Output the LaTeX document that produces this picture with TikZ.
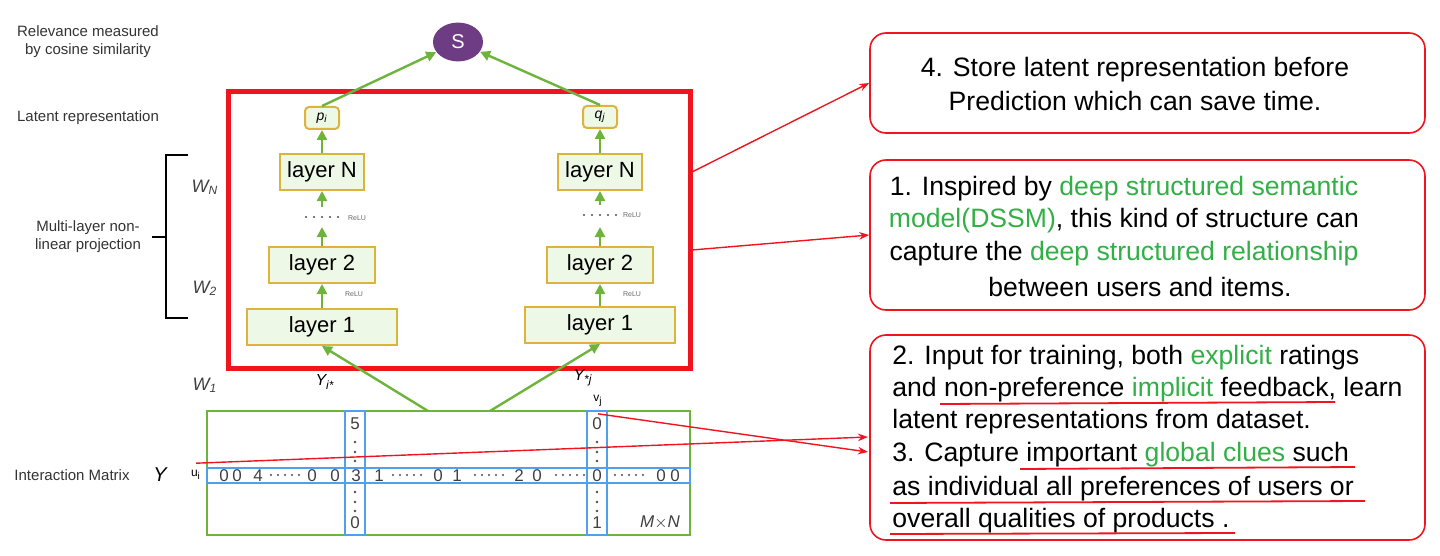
\documentclass[tikz,border=0pt]{standalone}
\usepackage{fontspec}
\setmainfont{Liberation Sans}
\usetikzlibrary{arrows.meta,shapes.geometric}
\definecolor{gr}{RGB}{110,180,60}
\definecolor{tg}{RGB}{50,175,70}
\definecolor{ly}{RGB}{220,180,60}
\definecolor{lf}{RGB}{238,248,230}
\definecolor{bl}{RGB}{80,160,235}
\definecolor{rd}{RGB}{240,20,30}
\definecolor{pu}{RGB}{110,60,130}
\newcommand{\sbs}[1]{\textsubscript{#1}}
\begin{document}
\begin{tikzpicture}[x=0.5pt,y=-0.5pt,
 lay/.style={draw=ly,line width=1pt,fill=lf,minimum height=18pt,inner sep=0pt,font=\fontsize{11}{12}\selectfont},
 sm/.style={draw=ly,line width=1pt,fill=lf,rounded corners=2pt,minimum width=17pt,minimum height=11pt,inner sep=0pt,font=\fontsize{7}{8}\selectfont\itshape},
 ga/.style={draw=gr,line width=1.2pt,-{Triangle[length=5pt,width=5pt]}},
 lbl/.style={font=\fontsize{7.5}{9}\selectfont,align=center,text=black!80},
 relu/.style={font=\fontsize{3.5}{4}\selectfont,text=black!60},
 rbox/.style={draw=rd,line width=0.8pt,rounded corners=8pt},
 bt/.style={font=\fontsize{13.3}{15}\selectfont,inner sep=0pt},
 ra/.style={draw=rd,line width=0.7pt,-{Stealth[length=5pt]}},
 ul/.style={draw=rd,line width=0.9pt},
 wl/.style={font=\fontsize{9}{10}\selectfont\itshape,text=black!75},
 mt/.style={font=\fontsize{8.5}{9}\selectfont,inner sep=0pt,text=black!75}]
\useasboundingbox (0,0) rectangle (1440,556);
% left labels
\node[lbl] (l1) at (88,42) {Relevance measured\\by cosine similarity};
\node[lbl] (l2) at (88,118) {Latent representation};
\node[lbl] (l3) at (88,237) {Multi-layer non-\\linear projection};
\node[lbl] (l4) at (72,475) {Interaction Matrix};
\node[font=\fontsize{10}{12}\selectfont\itshape] (Y) at (160,475) {Y};
\draw[line width=1pt] (188,155) -- (166,155) -- (166,318) -- (188,318);
\draw[line width=1pt] (166,237) -- (152,237);
\node[wl] (wn) at (205,187) {W\sbs{N}};
\node[wl] (w2) at (205,288) {W\sbs{2}};
\node[wl] (w1) at (205,385) {W\sbs{1}};
% S
\node[ellipse,fill=pu,minimum width=25pt,minimum height=18pt,text=white,font=\fontsize{10}{12}\selectfont] (S) at (458,42) {S};
% red box
\draw[rd,line width=2.5pt] (228,92) rectangle (690,368);
% left tower
\node[sm] (p) at (322,118) {p\sbs{i}};
\node[lay,minimum width=42pt] (aN) at (322,172) {layer N};
\node[lay,minimum width=53pt] (a2) at (322,265) {layer 2};
\node[lay,minimum width=75pt] (a1) at (322,327) {layer 1};
\foreach \x in {306,314,322,330,338} \fill[black!70] (\x,217) circle (0.6pt);
\node[relu] (ar1) at (357,218) {ReLU};
\node[relu] (ar2) at (354,294) {ReLU};
\draw[ga] (a1) -- (a2);
\draw[ga] (a2) -- (322,227);
\draw[ga] (322,207) -- (aN);
\draw[ga] (aN) -- (p);
% right tower
\node[sm] (q) at (600,117) {q\sbs{j}};
\node[lay,minimum width=42pt] (bN) at (600,172) {layer N};
\node[lay,minimum width=53pt] (b2) at (600,265) {layer 2};
\node[lay,minimum width=75pt] (b1) at (600,325) {layer 1};
\foreach \x in {584,592,600,608,616} \fill[black!70] (\x,215) circle (0.6pt);
\node[relu] (br1) at (632,215) {ReLU};
\node[relu] (br2) at (632,294) {ReLU};
\draw[ga] (b1) -- (b2);
\draw[ga] (b2) -- (600,227);
\draw[ga] (600,205) -- (bN);
\draw[ga] (bN) -- (q);
\draw[ga] (p.north) -- (S);
\draw[ga] (q.north) -- (S);
% matrix
\draw[gr,line width=1.2pt] (207,411) rectangle (690,535);
\draw[bl,line width=1.2pt] (345,411) rectangle (365,535);
\draw[bl,line width=1.2pt] (587,411) rectangle (607,535);
\draw[bl,line width=1.2pt] (207,468) rectangle (690,483);
\coordinate (m1) at (428,411);
\coordinate (m2) at (490,411);
\draw[ga] (m1) -- (a1.south);
\draw[ga] (m2) -- (b1.south);
\node[font=\fontsize{8}{9}\selectfont\itshape] (yi) at (325,382) {Y\sbs{i*}};
\node[font=\fontsize{8}{9}\selectfont\itshape] (yj) at (583,378) {Y\sbs{*j}};
\node[font=\fontsize{6}{7}\selectfont] (vj) at (598,401) {v\sbs{j}};
\node[font=\fontsize{6}{7}\selectfont] (ui) at (196,475) {u\sbs{i}};
\foreach \x/\t in {224/0,237/0,258/4,312/0,335/0,356/3,379/1,438/0,457/1,519/2,537/0,597/0,661/0,675/0}
  \node[mt] at (\x,476) {\t};
\foreach \a in {271,393,475,556,615}
  \foreach \k in {0,1,2,3,4} \fill[black!70] (\a+\k*7,475) circle (0.6pt);
\node[mt] at (355,424) {5};
\node[mt] at (355,523) {0};
\node[mt] at (597,424) {0};
\node[mt] at (597,523) {1};
\foreach \y in {442,452,461,492,502,511}{
  \fill[black!70] (355,\y) circle (0.7pt);
  \fill[black!70] (597,\y) circle (0.7pt);}
\node[font=\fontsize{8.5}{9}\selectfont\itshape,text=black!75] (mn) at (660,522) {M$\times$N};
% right boxes
\node[rbox,minimum width=277.5pt,minimum height=50pt] (B4) at (1147.5,83) {};
\node[rbox,minimum width=277.5pt,minimum height=75pt] (B1) at (1147.5,235) {};
\node[rbox,minimum width=277.5pt,minimum height=102.5pt] (B2) at (1147.5,437.5) {};
\node[bt] at (1135,70) {4. Store latent representation before};
\node[bt] at (1135,101) {Prediction which can save time.};
\node[bt] at (1124,189) {1. Inspired by \textcolor{tg}{deep structured semantic}};
\node[bt] at (1124,221) {\textcolor{tg}{model(DSSM)}, this kind of structure can};
\node[bt] at (1124,254) {capture the \textcolor{tg}{deep structured relationship}};
\node[bt] at (1140,287) {between users and items.};
\node[bt,anchor=west] at (892,358) {2. Input for training, both \textcolor{tg}{explicit} ratings};
\node[bt,anchor=west] at (892,390) {and non-preference \textcolor{tg}{implicit} feedback, learn};
\node[bt,anchor=west] at (892,422) {latent representations from dataset.};
\node[bt,anchor=west] at (892,455) {3. Capture important \textcolor{tg}{global clues} such};
\node[bt,anchor=west] at (892,489) {as individual all preferences of users or};
\node[bt,anchor=west] at (892,521) {overall qualities of products .};
\draw[ul] (940,404) -- (1335,402);
\draw[ul] (1020,469) -- (1355,467);
\draw[ul] (890,503) -- (1365,501);
\draw[ul] (890,534) -- (1235,533);
% red connectors
\coordinate (r1) at (692,172);
\coordinate (r2) at (692,250);
\draw[ra] (r1) -- (B4.west);
\draw[ra] (r2) -- (B1.west);
\draw[ra] (vj.south) -- (868,452);
\draw[ra] (ui.north) -- (868,437);
\end{tikzpicture}
\end{document}
